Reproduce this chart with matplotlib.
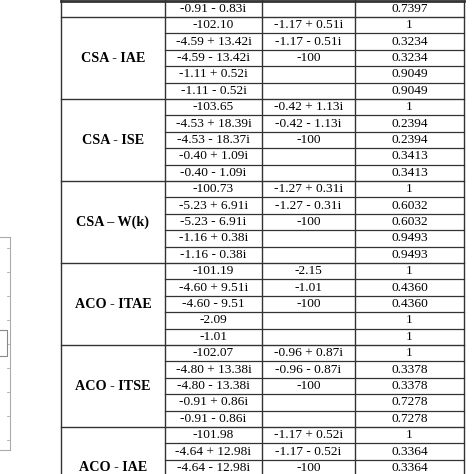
import matplotlib.pyplot as plt

# Table content (rows within each method group)
methods = ['CSA - IAE', 'CSA - ISE', 'CSA \u2013 W(k)', 'ACO - ITAE', 'ACO - ITSE', 'ACO - IAE']
col1 = [
    ['-102.10', '-4.59 + 13.42i', '-4.59 - 13.42i', '-1.11 + 0.52i', '-1.11 - 0.52i'],
    ['-103.65', '-4.53 + 18.39i', '-4.53 - 18.37i', '-0.40 + 1.09i', '-0.40 - 1.09i'],
    ['-100.73', '-5.23 + 6.91i', '-5.23 - 6.91i', '-1.16 + 0.38i', '-1.16 - 0.38i'],
    ['-101.19', '-4.60 + 9.51i', '-4.60 - 9.51', '-2.09', '-1.01'],
    ['-102.07', '-4.80 + 13.38i', '-4.80 - 13.38i', '-0.91 + 0.86i', '-0.91 - 0.86i'],
    ['-101.98', '-4.64 + 12.98i', '-4.64 - 12.98i', '', ''],
]
col2 = [
    ['-1.17 + 0.51i', '-1.17 - 0.51i', '-100', '', ''],
    ['-0.42 + 1.13i', '-0.42 - 1.13i', '-100', '', ''],
    ['-1.27 + 0.31i', '-1.27 - 0.31i', '-100', '', ''],
    ['-2.15', '-1.01', '-100', '', ''],
    ['-0.96 + 0.87i', '-0.96 - 0.87i', '-100', '', ''],
    ['-1.17 + 0.52i', '-1.17 - 0.52i', '-100', '', ''],
]
col3 = [
    ['1', '0.3234', '0.3234', '0.9049', '0.9049'],
    ['1', '0.2394', '0.2394', '0.3413', '0.3413'],
    ['1', '0.6032', '0.6032', '0.9493', '0.9493'],
    ['1', '0.4360', '0.4360', '1', '1'],
    ['1', '0.3378', '0.3378', '0.7278', '0.7278'],
    ['1', '0.3364', '0.3364', '', ''],
]
top_row = ['-0.91 - 0.83i', '', '0.7397']

plt.rcParams['font.family'] = ['Liberation Serif', 'DejaVu Serif']
fig = plt.figure(figsize=(4.74, 4.74), dpi=100)
ax = fig.add_axes([0, 0, 1, 1])
ax.set_xlim(0, 474)
ax.set_ylim(474, 0)
ax.axis('off')

xs = [61, 165, 262, 355, 464]
rh = 16.4
y0 = 17
lc = '#333333'
fs = 9.6

# outer verticals
for x in xs:
    ax.plot([x, x], [-5, 480], color=lc, lw=1.0)
ax.plot([61, 464], [0.5, 0.5], color=lc, lw=2.0)

# top partial row
ax.text((xs[1] + xs[2]) / 2, 9, top_row[0], ha='center', va='center', fontsize=fs)
ax.text((xs[3] + xs[4]) / 2, 9, top_row[2], ha='center', va='center', fontsize=fs)

for g, name in enumerate(methods):
    gy = y0 + g * 5 * rh
    ax.plot([xs[0], xs[4]], [gy, gy], color=lc, lw=1.0)
    for r in range(1, 5):
        yy = gy + r * rh
        ax.plot([xs[1], xs[4]], [yy, yy], color=lc, lw=0.9)
    ax.text((xs[0] + xs[1]) / 2, gy + 2.5 * rh, name, ha='center', va='center',
            fontsize=fs + 0.6, fontweight='bold')
    for r in range(5):
        yc = gy + (r + 0.5) * rh
        for c, col in enumerate([col1, col2, col3]):
            ax.text((xs[c + 1] + xs[c + 2]) / 2, yc, col[g][r], ha='center', va='center', fontsize=fs)

# fragment of neighbouring figure on the left
gc = '#aaaaaa'
ax.plot([10, 10], [237, 450], color=gc, lw=0.8)
ax.plot([0, 10], [450, 450], color=gc, lw=0.8)
ax.plot([0, 10], [237, 237], color=gc, lw=0.8)
for ty in range(248, 450, 24):
    ax.plot([7, 10], [ty, ty], color=gc, lw=0.6)
ax.plot([0, 7, 7, 0], [330, 330, 356, 356], color='#888888', lw=0.8)

fig.savefig('out.png', dpi=100, facecolor='white')
